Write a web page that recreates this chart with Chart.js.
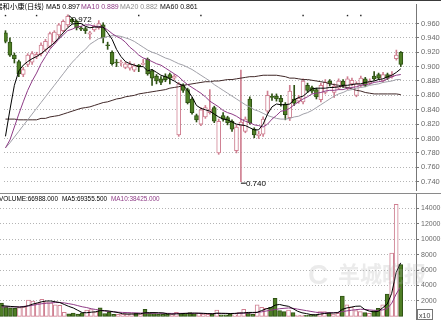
<!DOCTYPE html>
<html>
<head>
<meta charset="utf-8">
<script src="https://cdn.jsdelivr.net/npm/chart.js@4.4.1/dist/chart.umd.min.js"></script>
<style>
html, body { margin: 0; padding: 0; background: #fff; }
#wrap { position: relative; width: 441px; height: 320px; overflow: hidden; }
canvas { position: absolute; left: 0; }
#price { top: 0; }
#vol { top: 194px; }
</style>
</head>
<body>
<div id="wrap">
  <canvas id="price" width="441" height="194"></canvas>
  <canvas id="vol" width="441" height="126"></canvas>
</div>
<script>
const stockName = "瑞和小康(日线)";

const opens = [
  0.947,0.934,0.916,0.907,0.889,0.903,0.906,0.914,0.918,0.924,
  0.928,0.934,0.944,0.950,0.958,0.966,0.963,0.954,0.953,0.945,
  0.951,0.954,0.958,0.930,0.920,0.906,0.905,0.899,0.898,0.895,
  0.902,0.903,0.910,0.894,0.887,0.883,0.887,0.889,0.884,0.805,
  0.874,0.868,0.855,0.832,0.820,0.830,0.836,0.843,0.780,0.832,
  0.829,0.824,0.783,0.818,0.810,0.855,0.813,0.804,0.806,0.838,
  0.859,0.859,0.856,0.848,0.829,0.855,0.852,0.851,0.874,0.871,
  0.868,0.854,0.864,0.880,0.864,0.870,0.880,0.870,0.876,0.860,
  0.874,0.883,0.877,0.887,0.889,0.880,0.889,0.886,0.911,0.920
];
const closes = [
  0.935,0.916,0.911,0.890,0.896,0.916,0.918,0.917,0.930,0.935,
  0.946,0.948,0.958,0.963,0.970,0.962,0.954,0.952,0.950,0.947,
  0.956,0.960,0.940,0.929,0.904,0.905,0.906,0.904,0.903,0.901,
  0.900,0.904,0.890,0.884,0.880,0.878,0.882,0.884,0.887,0.876,
  0.867,0.850,0.836,0.826,0.840,0.843,0.840,0.824,0.824,0.827,
  0.822,0.813,0.816,0.823,0.827,0.822,0.805,0.806,0.827,0.860,
  0.857,0.855,0.851,0.833,0.866,0.849,0.856,0.880,0.867,0.866,
  0.858,0.874,0.878,0.876,0.873,0.880,0.874,0.883,0.881,0.876,
  0.884,0.874,0.880,0.883,0.884,0.889,0.884,0.889,0.916,0.903
];
const highs = [
  0.950,0.940,0.919,0.909,0.899,0.918,0.921,0.920,0.933,0.938,
  0.948,0.950,0.960,0.965,0.972,0.968,0.965,0.956,0.955,0.949,
  0.958,0.964,0.961,0.934,0.922,0.910,0.909,0.906,0.907,0.904,
  0.903,0.910,0.912,0.896,0.889,0.886,0.890,0.891,0.889,0.878,
  0.876,0.870,0.857,0.834,0.843,0.846,0.868,0.845,0.827,0.836,
  0.831,0.826,0.819,0.895,0.830,0.858,0.815,0.810,0.830,0.866,
  0.862,0.862,0.860,0.850,0.874,0.874,0.860,0.883,0.877,0.873,
  0.870,0.877,0.882,0.882,0.876,0.883,0.882,0.886,0.884,0.879,
  0.887,0.885,0.883,0.893,0.891,0.892,0.891,0.893,0.923,0.921
];
const lows = [
  0.933,0.914,0.905,0.886,0.886,0.900,0.903,0.911,0.915,0.921,
  0.926,0.932,0.941,0.948,0.955,0.960,0.951,0.950,0.946,0.938,
  0.949,0.952,0.933,0.924,0.902,0.900,0.901,0.897,0.895,0.893,
  0.893,0.902,0.888,0.874,0.876,0.875,0.879,0.876,0.882,0.803,
  0.864,0.848,0.834,0.823,0.818,0.828,0.834,0.822,0.778,0.824,
  0.819,0.810,0.780,0.740,0.808,0.820,0.801,0.800,0.803,0.835,
  0.853,0.852,0.845,0.826,0.825,0.846,0.849,0.848,0.864,0.863,
  0.855,0.851,0.862,0.873,0.857,0.868,0.871,0.868,0.873,0.858,
  0.872,0.872,0.875,0.881,0.882,0.878,0.882,0.884,0.909,0.900
];

const ma5 = [
  0.803,0.840,0.874,0.894,0.902,0.907,0.911,0.914,0.918,0.923,
  0.928,0.933,0.940,0.947,0.954,0.959,0.960,0.960,0.956,0.954,
  0.955,0.955,0.955,0.947,0.938,0.924,0.914,0.907,0.904,0.902,
  0.900,0.900,0.894,0.896,0.892,0.888,0.886,0.883,0.880,0.876,
  0.874,0.867,0.858,0.846,0.842,0.840,0.838,0.834,0.830,0.827,
  0.826,0.823,0.820,0.819,0.818,0.815,0.812,0.812,0.820,0.834,
  0.844,0.848,0.847,0.847,0.848,0.854,0.857,0.859,0.864,0.869,
  0.870,0.870,0.870,0.871,0.871,0.872,0.874,0.874,0.875,0.876,
  0.876,0.878,0.879,0.880,0.882,0.883,0.886,0.888,0.892,0.897
];
const ma10 = [
  0.787,0.798,0.816,0.834,0.851,0.867,0.880,0.891,0.904,0.914,
  0.924,0.931,0.938,0.944,0.950,0.952,0.955,0.956,0.958,0.958,
  0.956,0.956,0.955,0.951,0.946,0.942,0.939,0.934,0.927,0.922,
  0.916,0.912,0.910,0.907,0.904,0.902,0.898,0.894,0.890,0.886,
  0.880,0.875,0.871,0.867,0.863,0.858,0.852,0.848,0.844,0.839,
  0.836,0.834,0.831,0.827,0.824,0.822,0.819,0.818,0.816,0.820,
  0.827,0.832,0.838,0.839,0.842,0.847,0.851,0.855,0.858,0.862,
  0.863,0.864,0.866,0.867,0.867,0.868,0.868,0.870,0.871,0.872,
  0.874,0.875,0.876,0.878,0.879,0.880,0.883,0.886,0.888,0.889
];
const ma20 = [
  0.787,0.794,0.802,0.810,0.818,0.826,0.834,0.842,0.850,0.858,
  0.866,0.874,0.882,0.890,0.898,0.906,0.912,0.919,0.924,0.931,
  0.935,0.939,0.940,0.942,0.943,0.943,0.942,0.940,0.938,0.935,
  0.931,0.927,0.923,0.920,0.918,0.915,0.912,0.910,0.907,0.904,
  0.902,0.899,0.896,0.892,0.888,0.884,0.880,0.875,0.871,0.867,
  0.863,0.859,0.855,0.851,0.847,0.844,0.840,0.838,0.835,0.832,
  0.830,0.828,0.827,0.827,0.828,0.830,0.831,0.834,0.836,0.839,
  0.843,0.847,0.851,0.855,0.859,0.862,0.864,0.867,0.868,0.870,
  0.871,0.872,0.874,0.875,0.876,0.878,0.879,0.880,0.882,0.882
];
const ma60 = [
  0.827,0.827,0.827,0.826,0.826,0.826,0.826,0.826,0.828,0.828,
  0.830,0.831,0.832,0.834,0.836,0.838,0.840,0.842,0.843,0.844,
  0.846,0.848,0.850,0.851,0.853,0.855,0.856,0.858,0.859,0.860,
  0.862,0.863,0.864,0.865,0.866,0.867,0.868,0.870,0.871,0.872,
  0.874,0.875,0.876,0.877,0.878,0.879,0.879,0.880,0.880,0.881,
  0.882,0.882,0.883,0.884,0.885,0.886,0.886,0.887,0.888,0.888,
  0.888,0.888,0.887,0.886,0.884,0.884,0.883,0.882,0.882,0.881,
  0.880,0.879,0.878,0.876,0.875,0.874,0.872,0.871,0.869,0.867,
  0.866,0.864,0.863,0.862,0.862,0.862,0.862,0.862,0.862,0.861
];

// volume, in the axis unit (x10)
const volumes = [
  1740,1250,1100,1050,1150,1200,2130,2000,1740,2230,
  1900,1770,1490,1450,520,350,420,300,480,820,
  900,600,1100,380,520,260,280,300,330,360,
  420,300,930,480,380,300,260,280,250,520,
  380,420,500,360,420,300,260,340,840,200,
  220,320,200,500,930,410,300,1490,1190,1060,
  1190,2350,750,620,840,490,190,190,150,200,
  250,620,620,490,320,400,2650,1490,1190,750,
  620,490,400,750,1060,1500,2900,8200,14500,6698.8
];
const volMa5 = [
  1400,1350,1300,1250,1200,1250,1400,1600,1750,1900,
  2000,2000,1900,1800,1550,1300,1100,800,500,480,
  550,600,750,750,700,600,500,350,310,310,
  330,350,470,490,500,480,460,350,300,330,
  360,390,410,440,420,400,370,340,430,410,
  400,380,390,440,460,520,520,530,760,980,
  1130,1460,1550,1410,1310,1010,680,470,370,240,
  200,290,380,440,450,490,920,1100,1210,1320,
  1340,900,690,600,660,1120,1600,2990,5700,6935.55
];
const volMa10 = [
  1200,1250,1250,1250,1250,1300,1350,1450,1550,1650,
  1700,1750,1800,1800,1750,1650,1550,1400,1250,1150,
  1000,900,800,700,650,600,550,520,500,480,
  460,440,430,420,420,420,410,400,390,390,
  400,400,400,400,400,390,380,370,380,380,
  380,380,390,400,420,450,480,520,600,700,
  800,900,1000,1050,1100,1050,950,850,750,650,
  550,480,460,470,490,520,620,720,800,880,
  930,900,850,800,780,850,1000,1700,2900,3842.5
];

const priceTicks = [0.74, 0.76, 0.78, 0.80, 0.82, 0.84, 0.86, 0.88, 0.90, 0.92, 0.94, 0.96];
const volumeTicks = [2000, 4000, 6000, 8000, 10000, 12000, 14000];
const markerDays = [0, 7, 30, 44, 67, 77, 80];
const markerLevel = 0.971;

const UP = '#cf7f91';
const DOWN_FILL = '#4f7f25';
const DOWN_EDGE = '#2f5215';
const MA5_C = '#000000';
const MA10_C = '#8e3b86';
const MA20_C = '#a0a0a8';
const MA60_C = '#402828';

const last = closes.length - 1;
const isUp = opens.map((o, i) => closes[i] >= o);

const xAxis = {
    type: 'linear',
    min: -0.334,
    max: 92.42,
    offset: false,
    display: false,
    grid: { offset: false }
};

const rightAxis = (ticksList, fmt, fontSize) => ({
    position: 'right',
    afterFit: (s) => { s.width = 25; s.paddingTop = 0; s.paddingBottom = 0; },
    afterBuildTicks: (s) => { s.ticks = ticksList.map(v => ({ value: v })); },
    grid: { color: '#b4b4b4', tickLength: 3, tickColor: '#777' },
    border: { color: '#777', dash: [1, 2] },
    ticks: {
        autoSkip: false,
        padding: 2,
        color: '#6a6a6a',
        font: { family: 'Liberation Sans', size: fontSize },
        callback: fmt
    }
});

const lineSet = (data, color) => ({
    type: 'line',
    data: data.map((v, i) => ({ x: i, y: v })),
    borderColor: color,
    borderWidth: 1,
    pointRadius: 0,
    tension: 0,
    order: 0
});

const priceOverlay = {
    id: 'priceOverlay',
    afterDraw(chart) {
        const ctx = chart.ctx;
        const xs = chart.scales.x, ys = chart.scales.y;
        ctx.save();
        ctx.strokeStyle = '#3a3a3a';
        ctx.beginPath(); ctx.moveTo(0, 0.5); ctx.lineTo(441, 0.5); ctx.stroke();
        ctx.strokeStyle = '#8a8a8a';
        ctx.beginPath(); ctx.moveTo(0, 193.5); ctx.lineTo(441, 193.5); ctx.stroke();

        // header
        ctx.textBaseline = 'alphabetic';
        ctx.font = '7.3px "Noto Sans CJK SC"';
        ctx.textAlign = 'right';
        ctx.fillStyle = '#000';
        ctx.fillText(stockName, 44, 9);
        ctx.textAlign = 'left';
        ctx.font = '7px "Liberation Sans"';
        const heads = [
            ['MA5 ' + ma5[last].toFixed(3), MA5_C, 46],
            ['MA10 ' + ma10[last].toFixed(3), MA10_C, 81],
            ['MA20 ' + ma20[last].toFixed(3), '#8c8c8c', 120],
            ['MA60 ' + ma60[last].toFixed(3), '#111', 160]
        ];
        heads.forEach(h => { ctx.fillStyle = h[1]; ctx.fillText(h[0], h[2], 8.5); });

        // highest / lowest marks
        const hi = Math.max(...highs), hiIdx = highs.indexOf(hi);
        const lo = Math.min(...lows), loIdx = lows.indexOf(lo);
        let px = xs.getPixelForValue(hiIdx), py = ys.getPixelForValue(hi);
        ctx.strokeStyle = '#000';
        ctx.beginPath(); ctx.moveTo(px + 1, py + 0.5); ctx.lineTo(px + 4, py + 3); ctx.stroke();
        ctx.fillStyle = '#000';
        ctx.font = '8px "Liberation Sans"';
        ctx.fillText(hi.toFixed(3), px + 4, py + 7);
        px = xs.getPixelForValue(loIdx); py = ys.getPixelForValue(lo);
        ctx.beginPath(); ctx.moveTo(px, py + 1.5); ctx.lineTo(px + 5, py + 1.5); ctx.stroke();
        ctx.fillText(lo.toFixed(3), px + 5, py + 4.5);
        ctx.restore();
    }
};

const volOverlay = {
    id: 'volOverlay',
    afterDraw(chart) {
        const ctx = chart.ctx;
        ctx.save();
        ctx.font = 'bold 22px "Noto Sans CJK SC"';
        ctx.fillStyle = 'rgba(175,175,175,0.25)';
        ctx.fillText('羊城晚报', 338, 88);
        ctx.font = 'bold 28px "Liberation Sans"';
        ctx.fillText('C', 308, 90);

        ctx.font = '6.4px "Liberation Sans"';
        ctx.textBaseline = 'alphabetic';
        ctx.fillStyle = '#000';
        ctx.fillText('VOLUME:' + (volumes[last] * 10).toFixed(3), -1, 7);
        ctx.fillText('MA5:' + (volMa5[last] * 10).toFixed(3), 62, 7);
        ctx.fillStyle = MA10_C;
        ctx.fillText('MA10:' + (volMa10[last] * 10).toFixed(3), 111, 7);

        ctx.strokeStyle = '#777';
        ctx.strokeRect(417.5, 115.5, 15, 10);
        ctx.fillStyle = '#444';
        ctx.font = '7px "Liberation Sans"';
        ctx.fillText('x10', 419, 123.5);
        ctx.restore();
    }
};

new Chart(document.getElementById('price').getContext('2d'), {
    type: 'bar',
    data: {
        datasets: [
            lineSet(ma5, MA5_C),
            lineSet(ma10, MA10_C),
            lineSet(ma20, MA20_C),
            lineSet(ma60, MA60_C),
            {
                type: 'line',
                data: markerDays.map(d => ({ x: d, y: markerLevel })),
                showLine: false,
                pointStyle: 'rect',
                pointRadius: 1,
                pointBackgroundColor: '#222',
                pointBorderWidth: 0,
                order: 0
            },
            {
                data: opens.map((o, i) => ({ x: i, y: [o, closes[i]] })),
                backgroundColor: isUp.map(u => u ? '#ffffff' : DOWN_FILL),
                borderColor: isUp.map(u => u ? UP : DOWN_EDGE),
                borderWidth: 1,
                borderSkipped: false,
                barThickness: 4,
                minBarLength: 1,
                grouped: false,
                order: 1
            },
            {
                data: lows.map((l, i) => ({ x: i, y: [l, highs[i]] })),
                backgroundColor: isUp.map(u => u ? UP : DOWN_EDGE),
                borderWidth: 0,
                barThickness: 1,
                grouped: false,
                order: 2
            }
        ]
    },
    options: {
        responsive: false,
        animation: false,
        devicePixelRatio: 1,
        layout: { padding: 0 },
        plugins: { legend: { display: false }, tooltip: { enabled: false } },
        scales: {
            x: xAxis,
            y: Object.assign(rightAxis(priceTicks, v => v.toFixed(3), 7.5), { min: 0.7284, max: 0.98707 })
        }
    },
    plugins: [priceOverlay]
});

new Chart(document.getElementById('vol').getContext('2d'), {
    type: 'bar',
    data: {
        datasets: [
            lineSet(volMa5, MA5_C),
            lineSet(volMa10, MA10_C),
            {
                data: volumes.map((v, i) => ({ x: i, y: v })),
                backgroundColor: isUp.map(u => u ? '#ffffff' : DOWN_FILL),
                borderColor: isUp.map(u => u ? UP : DOWN_EDGE),
                borderWidth: 1,
                borderSkipped: false,
                barThickness: 4,
                grouped: false,
                order: 1
            }
        ]
    },
    options: {
        responsive: false,
        animation: false,
        devicePixelRatio: 1,
        layout: { padding: 0 },
        plugins: { legend: { display: false }, tooltip: { enabled: false } },
        scales: {
            x: xAxis,
            y: Object.assign(rightAxis(volumeTicks, v => String(v), 7), { min: -460, max: 15851 })
        }
    },
    plugins: [volOverlay]
});
</script>
</body>
</html>
